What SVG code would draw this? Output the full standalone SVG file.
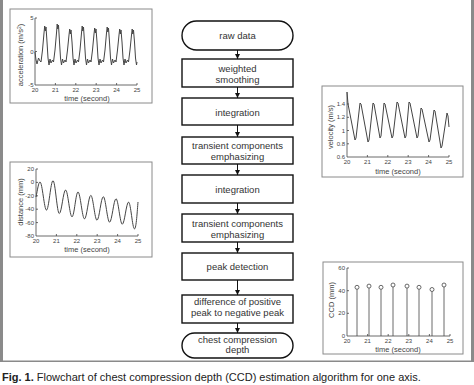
<svg xmlns="http://www.w3.org/2000/svg" width="474" height="385" viewBox="0 0 474 385">
<style>
.box{fill:#fff;stroke:#111;stroke-width:1.4}
.ft{font-family:"Liberation Sans",Arial,sans-serif;font-size:9.5px;fill:#333;text-anchor:middle}
.frame{fill:#fff;stroke:#8a8a8a;stroke-width:1}
.ax{stroke:#444;stroke-width:0.8;fill:none}
.tl{font-family:"Liberation Sans",Arial,sans-serif;font-size:6px;fill:#444}
.al{font-family:"Liberation Sans",Arial,sans-serif;font-size:7.5px;fill:#444;text-anchor:middle}
.wave{fill:none;stroke:#444;stroke-width:1;stroke-linejoin:round}
.conn line{stroke:#111;stroke-width:1}
</style>
<defs>
<marker id="ah" markerWidth="6" markerHeight="6" refX="5" refY="3" orient="auto" markerUnits="userSpaceOnUse">
<path d="M0,0.5 L5,3 L0,5.5 Z" fill="#111"/>
</marker>
</defs>
<rect width="474" height="385" fill="#fff"/>
<!-- outer frame -->
<rect x="0" y="0" width="3" height="362" fill="#8a8a8a"/>
<rect x="471" y="0" width="3" height="362" fill="#8a8a8a"/>
<rect x="0" y="360.5" width="474" height="1.5" fill="#8a8a8a"/>

<!-- connectors -->
<g id="connectors" class="conn">
<line x1="237.5" y1="50" x2="237.5" y2="59" marker-end="url(#ah)"/>
<line x1="237.5" y1="87" x2="237.5" y2="98" marker-end="url(#ah)"/>
<line x1="237.5" y1="125" x2="237.5" y2="137" marker-end="url(#ah)"/>
<line x1="237.5" y1="164" x2="237.5" y2="175" marker-end="url(#ah)"/>
<line x1="237.5" y1="203" x2="237.5" y2="214" marker-end="url(#ah)"/>
<line x1="237.5" y1="242" x2="237.5" y2="253" marker-end="url(#ah)"/>
<line x1="237.5" y1="280" x2="237.5" y2="295" marker-end="url(#ah)"/>
<line x1="237.5" y1="323" x2="237.5" y2="333" marker-end="url(#ah)"/>
</g>

<!-- flowchart nodes -->
<g id="n_raw"><rect class="box" x="182" y="21" width="111" height="29" rx="14.5"/><text class="ft" x="237.5" y="39">raw data</text></g>
<g id="n_smooth"><rect class="box" x="182" y="59" width="111" height="28"/><text class="ft" x="237.5" y="71.5">weighted</text><text class="ft" x="237.5" y="83">smoothing</text></g>
<g id="n_int1"><rect class="box" x="182" y="98" width="111" height="27"/><text class="ft" x="237.5" y="115.5">integration</text></g>
<g id="n_trans1"><rect class="box" x="182" y="137" width="111" height="27"/><text class="ft" x="237.5" y="149">transient components</text><text class="ft" x="237.5" y="160">emphasizing</text></g>
<g id="n_int2"><rect class="box" x="182" y="175" width="111" height="28"/><text class="ft" x="237.5" y="192.5">integration</text></g>
<g id="n_trans2"><rect class="box" x="182" y="214" width="111" height="28"/><text class="ft" x="237.5" y="226.5">transient components</text><text class="ft" x="237.5" y="237.5">emphasizing</text></g>
<g id="n_peak"><rect class="box" x="182" y="253" width="111" height="27"/><text class="ft" x="237.5" y="270">peak detection</text></g>
<g id="n_diff"><rect class="box" x="182" y="295" width="111" height="28"/><text class="ft" x="237.5" y="305">difference of positive</text><text class="ft" x="237.5" y="316">peak to negative peak</text></g>
<g id="n_ccd"><rect class="box" x="182" y="333" width="111" height="25" rx="12.5"/><text class="ft" x="237.5" y="342.5">chest compression</text><text class="ft" x="237.5" y="353">depth</text></g>

<!-- chart 1: acceleration -->
<g id="chart_accel">
<rect class="frame" x="10" y="9" width="142" height="94"/>
<path class="ax" d="M35,18 V85 H137 M35,18 h2 M35,51.5 h2 M55.4,85 v-2 M75.8,85 v-2 M96.2,85 v-2 M116.6,85 v-2 M137,85 v-2"/>
<text class="tl" text-anchor="end" x="33.5" y="20">5</text>
<text class="tl" text-anchor="end" x="33.5" y="53.5">0</text>
<text class="tl" text-anchor="end" x="33.5" y="87">-5</text>
<g class="tl" text-anchor="middle"><text x="35" y="92">20</text><text x="55.4" y="92">21</text><text x="75.8" y="92">22</text><text x="96.2" y="92">23</text><text x="116.6" y="92">24</text><text x="137" y="92">25</text></g>
<text class="al" x="87" y="100.5">time (second)</text>
<text class="al" transform="translate(23,55) rotate(-90)">acceleration (m/s<tspan font-size="5" dy="-2">2</tspan><tspan dy="2">)</tspan></text>
<polyline class="wave" points="35,52 36,60 37,64 38.5,58 40,61 41,62 42.5,50 44,33 44.7,26 45.3,31 46,27 47,42 48,58 49,65 50,59 51,63 52.5,60 53.5,62 55,50 56.5,33 57.2,24 57.8,29 58.5,25 59.5,42 60.5,58 61.5,65 62.5,59 63.5,63 65,60 66,62 67.5,50 69,35 69.7,29 70.3,34 71,30 72,42 73,58 74,65 75,59 76,63 77.5,60 78.5,62 80,50 81.5,33 82.2,26 82.8,31 83.5,27 84.5,42 85.5,58 86.5,65 87.5,59 88.5,63 90,60 91,62 92.5,50 94,34 94.7,28 95.3,33 96,29 97,42 98,58 99,65 100,59 101,63 102.5,60 103.5,62 105,50 106.5,33 107.2,27 107.8,32 108.5,28 109.5,42 110.5,58 111.5,65 112.5,59 113.5,63 115,60 116,62 117.5,50 119,35 119.7,29 120.3,34 121,30 122,42 123,58 124,65 125,59 126,63 127.5,60 128.5,62 130,50 131.5,35 132.2,29 132.8,34 133.5,30 134.5,42 135.5,58 136.5,65 137,62"/>
</g>

<!-- chart 2: distance -->
<g id="chart_dist">
<rect class="frame" x="10" y="162" width="142" height="95"/>
<path class="ax" d="M36,169 V236 H138 M36,169 h2 M36,182.4 h2 M36,195.8 h2 M36,209.2 h2 M36,222.6 h2 M56.4,236 v-2 M76.8,236 v-2 M97.2,236 v-2 M117.6,236 v-2 M138,236 v-2"/>
<g class="tl" text-anchor="end"><text x="34" y="171">20</text><text x="34" y="184.4">0</text><text x="34" y="197.8">-20</text><text x="34" y="211.2">-40</text><text x="34" y="224.6">-60</text><text x="34" y="238">-80</text></g>
<g class="tl" text-anchor="middle"><text x="36" y="243">20</text><text x="56.4" y="243">21</text><text x="76.8" y="243">22</text><text x="97.2" y="243">23</text><text x="117.6" y="243">24</text><text x="138" y="243">25</text></g>
<text class="al" x="87" y="252">time (second)</text>
<text class="al" transform="translate(23,202) rotate(-90)">distance (mm)</text>
<path class="wave" d="M36,197 C37.5,190 38.5,182 40,182 C42.3,182 44.2,210.1 46.5,210.1 C48.8,210.1 50.7,180.7 53,180.7 C55.3,180.7 57,213.5 59.3,213.5 C61.6,213.5 63.3,190 65.6,190 C67.9,190 69.7,216.8 72,216.8 C74.3,216.8 75.8,192 78,192 C80.3,192 82.2,218.9 84.5,218.9 C86.8,218.9 88.5,195.4 90.8,195.4 C93.1,195.4 94.7,220.2 97,220.2 C99.3,220.2 101,196.7 103.3,196.7 C105.6,196.7 107.3,222.2 109.6,222.2 C111.9,222.2 113.7,198.8 116,198.8 C118.3,198.8 120,224.2 122.3,224.2 C124.6,224.2 126.3,202.1 128.6,202.1 C130.7,202.1 132.4,228.9 134.5,228.9 C136.3,228.9 137.3,210 138,202"/>
</g>

<!-- chart 3: velocity -->
<g id="chart_vel">
<rect class="frame" x="322" y="86" width="141" height="91"/>
<path class="ax" d="M347,92 V157 H449 M347,104 h2 M347,117.3 h2 M347,130.5 h2 M347,143.8 h2 M367.4,157 v-2 M387.8,157 v-2 M408.2,157 v-2 M428.6,157 v-2 M449,157 v-2"/>
<g class="tl" text-anchor="end"><text x="345" y="106">1.4</text><text x="345" y="119.3">1.2</text><text x="345" y="132.5">1</text><text x="345" y="145.8">0.8</text><text x="345" y="159">0.6</text></g>
<g class="tl" text-anchor="middle"><text x="347" y="164">20</text><text x="367.4" y="164">21</text><text x="387.8" y="164">22</text><text x="408.2" y="164">23</text><text x="428.6" y="164">24</text><text x="449" y="164">25</text></g>
<text class="al" x="398" y="174">time (second)</text>
<text class="al" transform="translate(333,127) rotate(-90)">velocity (m/s)</text>
<polyline class="wave" points="347,92 348,104 355,140 356,138 360,103 361,104 368,142 369,140 373,103 374,104 380,138 381,136 384,103 385,104 392,138 393,136 397,102 398,103 405,138 406,136 409,102 410,103 417,138 418,136 421,108 422,109 429,142 430,140 434,110 435,111 441,148 442,146 447,113 448,116 449,127"/>
</g>

<!-- chart 4: CCD -->
<g id="chart_ccd">
<rect class="frame" x="323" y="262" width="140" height="92"/>
<path class="ax" d="M347,268 V336 H450 M347,268 h2 M347,290.7 h2 M347,313.3 h2 M367.6,336 v-2 M388.2,336 v-2 M408.8,336 v-2 M429.4,336 v-2 M450,336 v-2"/>
<g class="tl" text-anchor="end"><text x="345" y="270">60</text><text x="345" y="292.7">40</text><text x="345" y="315.3">20</text><text x="345" y="338">0</text></g>
<g class="tl" text-anchor="middle"><text x="347" y="343">20</text><text x="367.6" y="343">21</text><text x="388.2" y="343">22</text><text x="408.8" y="343">23</text><text x="429.4" y="343">24</text><text x="450" y="343">25</text></g>
<text class="al" x="398" y="352">time (second)</text>
<text class="al" transform="translate(334,300) rotate(-90)">CCD (mm)</text>
<g class="ax">
<path d="M357,336 V289.3 M369,336 V288.1 M381,336 V289.3 M393,336 V287 M407,336 V288.1 M419,336 V289.3 M432,336 V291.5 M444,336 V287"/>
<circle cx="357" cy="287.3" r="2"/><circle cx="369" cy="286.1" r="2"/><circle cx="381" cy="287.3" r="2"/><circle cx="393" cy="285" r="2"/><circle cx="407" cy="286.1" r="2"/><circle cx="419" cy="287.3" r="2"/><circle cx="432" cy="289.5" r="2"/><circle cx="444" cy="285" r="2"/>
</g>
</g>

<!-- caption -->
<text x="2" y="381" font-family="'Liberation Sans',Arial,sans-serif" font-size="11" fill="#222"><tspan font-weight="bold">Fig. 1.</tspan> Flowchart of chest compression depth (CCD) estimation algorithm for one axis.</text>
</svg>
